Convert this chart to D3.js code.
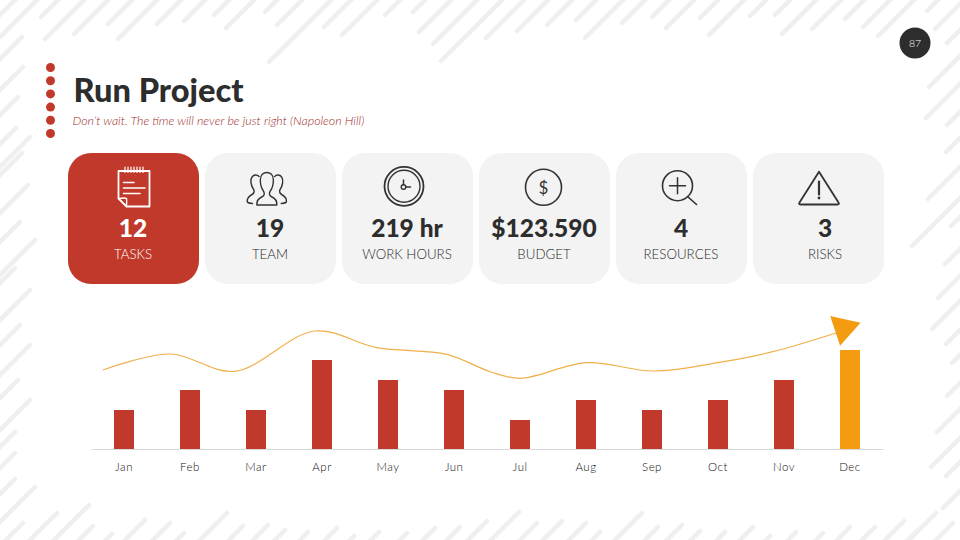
<!DOCTYPE html>
<html><head><meta charset="utf-8">
<script src="https://cdn.jsdelivr.net/npm/d3@7"></script>
<style>
html,body{margin:0;padding:0;background:#fff}
svg{display:block;font-family:Lato,sans-serif}
</style></head><body>
<svg id="c" width="960" height="540" viewBox="0 0 960 540"></svg>
<script>
// ---- data ----
const months = ["Jan","Feb","Mar","Apr","May","Jun","Jul","Aug","Sep","Oct","Nov","Dec"];
const barValues = [4,6,4,9,7,6,3,5,4,5,7,10];
const trendMonth = [-0.32,0.70,1.68,2.89,3.83,4.89,5.55,6.00,7.01,8.02,9.08,9.83,10.80];
const trendValue = [8.0,9.6,7.87,11.9,10.23,9.57,7.83,7.17,8.73,7.9,8.83,9.83,11.73];
const arrowMonth = [10.70,11.16,10.85];
const arrowValue = [13.4,12.73,10.43];
const cardValues = ["12","19","219 hr","$123.590","4","3"];
const cardLabels = ["TASKS","TEAM","WORK HOURS","BUDGET","RESOURCES","RISKS"];
const cardIcons = ["tasks","team","clock","dollar","search","risk"];
const titleText = "Run Project";
const subtitleText = "Don\u2019t wait. The time will never be just right (Napoleon Hill)";
const pageNumber = "87";
const dotRows = [0,1,2,3,4,5];
// background stripes: lower ends of those leaving up-right
const stripesUp = [[0,15],[0,37],[41,17],[45,39],[74,34],[108,24],[118,39],[157,24],[184,21],[214,15],[226,28],[265,12],[277,25],[269,62],[324,27],[342,35],[385,15],[413,12],[419,32],[433,44],[441,61],[486,38],[517,31],[547,25],[576,20],[585,38],[622,23],[652,17],[666,28],[700,18],[709,35],[750,16],[775,15],[782,34],[812,29],[845,19],[863,27],[878,36],[927,11],[935,29],[947,43],[929,87],[926,118],[947,125],[946,152],[928,199],[951,226],[912,246],[945,264],[938,298],[932,329],[946,344],[952,363],[947,396],[937,432],[931,467],[946,476],[943,508]];
// upper ends of those leaving down-left
const stripesDown = [[22,37],[23,67],[18,97],[16,128],[30,137],[22,153],[28,185],[20,222],[35,240],[15,268],[30,290],[20,325],[30,345],[18,380],[30,400],[15,432],[15,453],[15,479],[35,487],[23,523],[57,513],[89,505],[93,526],[112,534],[145,520],[170,523],[184,533],[227,513],[243,526],[268,525],[285,530],[308,532],[337,528],[354,536],[379,532],[407,533],[435,528],[460,527],[487,521],[519,512],[537,523],[562,521],[586,523],[600,532],[642,513],[658,527],[682,525],[700,531],[725,532],[753,527],[770,536],[796,532],[823,533],[850,527],[875,527],[904,521],[918,530],[936,513],[953,523]];

const RED="#c0392b", ORANGE="#f39c12", DARK="#2d2d2d";
const svg = d3.select("#c");

// stripes
const bg = svg.append("g").attr("stroke","#efefef").attr("stroke-width",4.5).attr("stroke-linecap","round");
bg.selectAll("line.u").data(stripesUp).join("line").attr("class","u")
  .attr("x1",d=>d[0]).attr("y1",d=>d[1]).attr("x2",d=>d[0]+d[1]+8).attr("y2",-8);
bg.selectAll("line.d").data(stripesDown).join("line").attr("class","d")
  .attr("x1",d=>d[0]).attr("y1",d=>d[1]).attr("x2",d=>d[0]-90).attr("y2",d=>d[1]+90);

// page badge
svg.append("circle").attr("cx",915).attr("cy",43).attr("r",15.5).attr("fill",DARK);
svg.append("text").attr("x",915).attr("y",46.8).attr("text-anchor","middle").attr("fill","#fff")
  .attr("font-size",10.5).attr("font-weight",300).text(pageNumber);

// title
const dotY = d3.scaleLinear().domain([0,5]).range([67.5,133.5]);
svg.selectAll("circle.dot").data(dotRows).join("circle").attr("class","dot")
  .attr("cx",50.5).attr("cy",d=>dotY(d)).attr("r",4.5).attr("fill",RED);
svg.append("text").attr("x",73.5).attr("y",102).attr("font-size",32.6).attr("font-weight",900).attr("fill",DARK).text(titleText);
svg.append("text").attr("x",72.5).attr("y",125).attr("font-size",12.4).attr("font-style","italic").attr("font-weight",300).attr("fill","#9c2a1f").text(subtitleText);

// cards
const cardX = d3.scaleBand().domain(d3.range(6)).range([68,884]).paddingInner(6/137).paddingOuter(0);
const textX = i => i===5 ? 72 : 65;
const cards = svg.selectAll("g.card").data(cardValues).join("g").attr("class","card")
  .attr("transform",(d,i)=>`translate(${cardX(i)},153)`);
cards.append("rect").attr("width",cardX.bandwidth()).attr("height",131).attr("rx",23).attr("fill",(d,i)=>i===0?RED:"#f3f3f3");
cards.append("text").attr("x",(d,i)=>textX(i)).attr("y",84).attr("text-anchor","middle").attr("font-size",24.5).attr("font-weight",900)
  .attr("fill",(d,i)=>i===0?"#fff":DARK).text(d=>d);
cards.append("text").attr("x",(d,i)=>textX(i)).attr("y",106).attr("text-anchor","middle").attr("font-size",13.3).attr("font-weight",300)
  .attr("fill",(d,i)=>i===0?"#fff":"#2a2a2a").text((d,i)=>cardLabels[i]);

const icon = cards.append("g").attr("fill","none").attr("stroke-linecap","round").attr("stroke-linejoin","round")
  .attr("stroke",(d,i)=>i===0?"#fff":"#333").attr("stroke-width",1.6);
icon.each(function(d,i){
  const g=d3.select(this), k=cardIcons[i];
  const P=(s,w)=>{const p=g.append("path").attr("d",s); if(w)p.attr("stroke-width",w); return p;};
  if(k==="tasks"){
    P("M50.5 18H81.5V53.5H58.5L50.5 45.5Z",1.8);
    P("M50.5 45.5C54 45 58 45 58.5 45.5C59 47 58.5 51 58.5 53.5",1.4);
    P("M57 14V19.5M60 14V19.5M63 14V19.5M66 14V19.5M69 14V19.5M72 14V19.5M75 14V19.5",1.2);
    P("M55.5 29.5H66M55.5 35H77M55.5 40.5H72",1.6);
  } else if(k==="team"){
    const t="translate(5.3,0) scale(.87,1)";
    P("M53.5 52C53 47 56 45 60 43.5C62.5 42.5 62.5 40 61 38C58 34.5 57.5 30 57.5 27C57.5 22 61 19.5 65 19.5C69 19.5 72.5 22 72.5 27C72.5 30 72 34.5 69 38C67.5 40 67.5 42.5 70 43.5C74 45 77 47 76.5 52Z",1.6).attr("transform",t);
    P("M56 23.5C54 21.5 50 21.5 48 24C45.5 27 47 33 49.5 36C51 38 50.5 40 48 41.5C45 43 42 45 42.5 48.5C42.5 49.5 45.5 50.5 48.5 50.5",1.6).attr("transform",t);
    P("M74 23.5C76 21.5 80 21.5 82 24C84.5 27 83 33 80.5 36C79 38 79.5 40 82 41.5C85 43 88 45 87.5 48.5C87.5 49.5 84.5 50.5 81.5 50.5",1.6).attr("transform",t);
  } else if(k==="clock"){
    g.append("circle").attr("cx",62).attr("cy",33.3).attr("r",19.5).attr("stroke-width",1.8);
    g.append("circle").attr("cx",62).attr("cy",33.3).attr("r",16).attr("stroke-width",1.4);
    g.append("circle").attr("cx",61.5).attr("cy",34).attr("r",2.3).attr("stroke-width",1.4);
    P("M61.5 31.5V27M64 34H68.5",1.5);
  } else if(k==="dollar"){
    g.append("circle").attr("cx",64.5).attr("cy",34.3).attr("r",18).attr("stroke-width",1.6);
    g.append("text").attr("x",64.5).attr("y",40.5).attr("text-anchor","middle").attr("font-size",17).attr("stroke","none").attr("fill","#333").text("$");
  } else if(k==="search"){
    g.append("circle").attr("cx",61.5).attr("cy",32.7).attr("r",15).attr("stroke-width",1.6);
    P("M53.5 32.7H69.5M61.5 24.7V40.7",1.5);
    P("M71.5 43.5L80.5 51.5",1.6);
  } else {
    P("M66 18.7L46.5 49.5C45.5 51 46.3 51.5 47.5 51.5H84.5C85.7 51.5 86.5 51 85.5 49.5Z",1.8);
    P("M66 28.5V41.5",2.2);
    P("M66 45V45.1",2.8);
  }
});

// chart
const x = d3.scaleBand().domain(months).range([91,883]).paddingInner(46/66).paddingOuter(23/66);
const y = d3.scaleLinear().domain([0,10]).range([450,350]);
const xTrend = d3.scaleLinear().domain([0,11]).range([x("Jan")+x.bandwidth()/2, x("Dec")+x.bandwidth()/2]);

svg.selectAll("rect.bar").data(barValues).join("rect").attr("class","bar")
  .attr("x",(d,i)=>x(months[i])).attr("width",x.bandwidth())
  .attr("y",d=>y(d)).attr("height",d=>y(0)-y(d))
  .attr("fill",(d,i)=>i===11?ORANGE:RED);

const axis = svg.append("g").attr("transform","translate(0,449)")
  .call(d3.axisBottom(x).tickSize(0).tickPadding(14));
axis.select(".domain").attr("stroke","#d9d9d9").attr("stroke-width",1);
axis.selectAll("text").attr("font-family","Lato").attr("font-size",11.5).attr("font-weight",300).attr("fill","#111").attr("letter-spacing",0.5);

const line = d3.line().x(d=>xTrend(d[0])).y(d=>y(d[1])).curve(d3.curveCatmullRom.alpha(0.5));
svg.append("path").datum(d3.zip(trendMonth,trendValue)).attr("d",line)
  .attr("fill","none").attr("stroke","#efb04a").attr("stroke-width",1.2);
svg.append("path").datum(d3.zip(arrowMonth,arrowValue))
  .attr("d",d3.line().x(d=>xTrend(d[0])).y(d=>y(d[1]))).attr("fill",ORANGE);
</script>
</body></html>
